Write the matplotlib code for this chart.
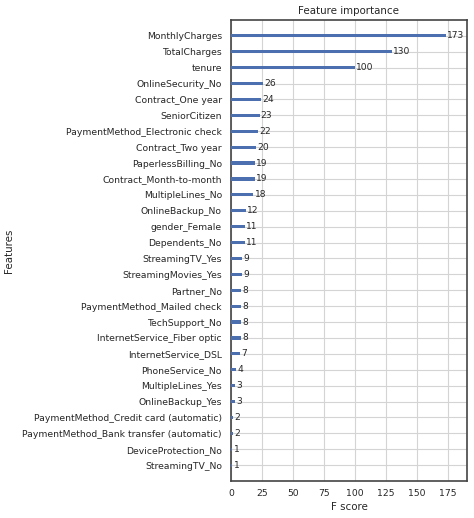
import matplotlib

matplotlib.use("Agg")
import matplotlib.pyplot as plt

# Feature importance (F score), top -> bottom as shown on the chart.
features = [
    "MonthlyCharges", "TotalCharges", "tenure", "OnlineSecurity_No",
    "Contract_One year", "SeniorCitizen", "PaymentMethod_Electronic check",
    "Contract_Two year", "PaperlessBilling_No", "Contract_Month-to-month",
    "MultipleLines_No", "OnlineBackup_No", "gender_Female", "Dependents_No",
    "StreamingTV_Yes", "StreamingMovies_Yes", "Partner_No",
    "PaymentMethod_Mailed check", "TechSupport_No",
    "InternetService_Fiber optic", "InternetService_DSL", "PhoneService_No",
    "MultipleLines_Yes", "OnlineBackup_Yes",
    "PaymentMethod_Credit card (automatic)",
    "PaymentMethod_Bank transfer (automatic)", "DeviceProtection_No",
    "StreamingTV_No",
]
scores = [173, 130, 100, 26, 24, 23, 22, 20, 19, 19, 18, 12, 11, 11,
          9, 9, 8, 8, 8, 8, 7, 4, 3, 3, 2, 2, 1, 1]

TEXT = "#262626"
BAR = "#4c6fb0"

plt.rcParams["font.family"] = "DejaVu Sans"
fig = plt.figure(figsize=(4.74, 5.18), dpi=100)
ax = fig.add_axes([231 / 474, 1 - 481 / 518, 236 / 474, 461 / 518])

# plot bottom-up like xgboost.plot_importance
labels = features[::-1]
values = scores[::-1]
ylocs = list(range(len(values)))
ax.barh(ylocs, values, height=0.2, align="center", color=BAR, zorder=3)
for x, y in zip(values, ylocs):
    ax.text(x + 1, y, str(x), va="center", fontsize=6.6, color=TEXT, zorder=4)

ax.set_yticks(ylocs)
ax.set_yticklabels(labels)
ax.set_xlim(0, max(values) * 1.1)
ax.set_ylim(-1, len(values))
ax.set_xticks([0, 25, 50, 75, 100, 125, 150, 175])

ax.grid(True, color="#d4d4d4", linewidth=0.8, zorder=0)
ax.tick_params(axis="both", length=0, labelsize=6.7, colors=TEXT)
ax.tick_params(axis="y", pad=6.5)
ax.tick_params(axis="x", pad=6)
for s in ax.spines.values():
    s.set_color("#444444")
    s.set_linewidth(1.2)

ax.set_title("Feature importance", fontsize=7.4, color=TEXT, pad=4)
ax.set_xlabel("F score", fontsize=7.4, color=TEXT, labelpad=3)
ax.set_ylabel("Features", fontsize=7.4, color=TEXT, labelpad=6)

fig.savefig("out.png", dpi=100)
